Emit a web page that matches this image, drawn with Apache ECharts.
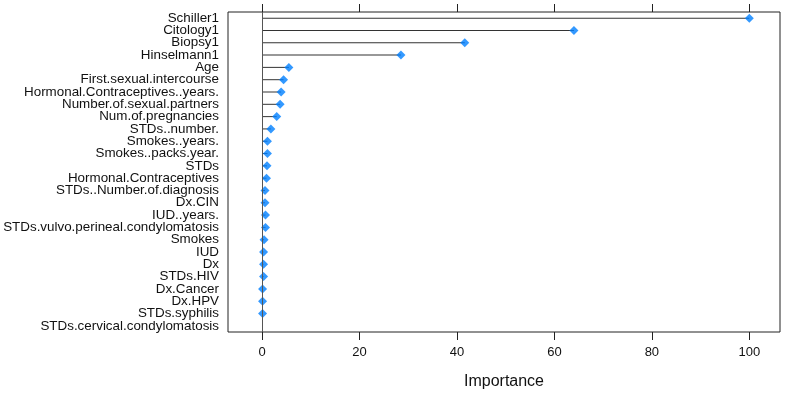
<!DOCTYPE html>
<html>
<head>
<meta charset="utf-8">
<script src="https://cdn.jsdelivr.net/npm/echarts@6/dist/echarts.min.js"></script>
<style>html,body{margin:0;padding:0;background:#fff}#c{width:785px;height:398px}</style>
</head>
<body>
<div id="c"></div>
<script>
const categories = ["Schiller1","Citology1","Biopsy1","Hinselmann1","Age","First.sexual.intercourse","Hormonal.Contraceptives..years.","Number.of.sexual.partners","Num.of.pregnancies","STDs..number.","Smokes..years.","Smokes..packs.year.","STDs","Hormonal.Contraceptives","STDs..Number.of.diagnosis","Dx.CIN","IUD..years.","STDs.vulvo.perineal.condylomatosis","Smokes","IUD","Dx","STDs.HIV","Dx.Cancer","Dx.HPV","STDs.syphilis","STDs.cervical.condylomatosis"];
const importance = [100,64,41.6,28.5,5.5,4.4,3.9,3.7,3.0,1.8,1.1,1.1,1.0,0.9,0.6,0.6,0.7,0.7,0.4,0.3,0.3,0.3,0.1,0.1,0.1,null];
const xTicks = [0,20,40,60,80,100];

const chart = echarts.init(document.getElementById('c'));
const font = 'Liberation Sans, Arial, sans-serif';
const axisBase = {
  type:'value', min:-7, max:106.3,
  splitLine:{show:false},
  axisLine:{show:false},
  axisTick:{show:true, inside:false, length:8, customValues:xTicks, lineStyle:{color:'#222'}}
};
chart.setOption({
  animation:false,
  grid:{left:228, right:5, top:12, bottom:66, show:true, borderColor:'#222', borderWidth:1, backgroundColor:'transparent'},
  xAxis:[
    Object.assign({}, axisBase, {
      position:'bottom',
      axisLabel:{customValues:xTicks, margin:14, fontSize:13, color:'#111', fontFamily:font},
      name:'Importance', nameLocation:'middle', nameGap:42,
      nameTextStyle:{fontSize:16, color:'#111', fontFamily:font}
    }),
    Object.assign({}, axisBase, {position:'top', axisLabel:{show:false}})
  ],
  yAxis:{
    type:'category', data:categories, inverse:true,
    axisLine:{show:false}, axisTick:{show:false},
    axisLabel:{margin:9, fontSize:13.4, color:'#111', fontFamily:font, interval:0}
  },
  series:[
    {
      type:'bar', xAxisIndex:0, data:importance, barWidth:1,
      itemStyle:{color:'#333'}, silent:true,
      markLine:{symbol:'none', silent:true, label:{show:false},
        lineStyle:{color:'#555', type:'solid', width:1}, data:[{xAxis:0}]}
    },
    {
      type:'scatter', xAxisIndex:0, symbol:'diamond', symbolSize:9,
      itemStyle:{color:'#0080ff'},
      data:categories.map((c,i)=>[importance[i], c]).filter(d=>d[0]!==null)
    }
  ]
});
</script>
</body>
</html>
